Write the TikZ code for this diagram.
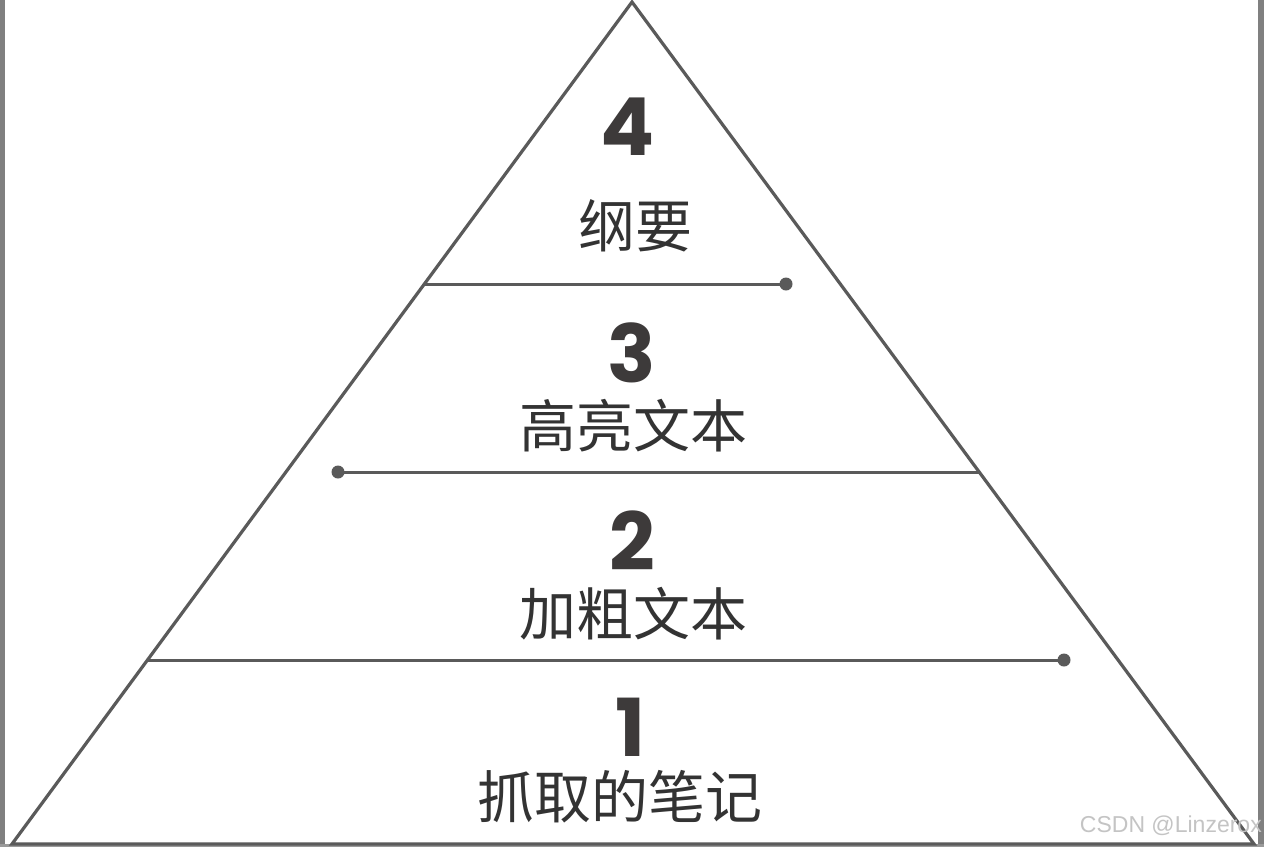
\documentclass[tikz,border=0pt]{standalone}
\usepackage{fontspec}
\setmainfont{Liberation Sans}
\newfontfamily\cjk{Noto Sans CJK SC}
\newfontfamily\numfont{Poppins}
\usetikzlibrary{calc}
\definecolor{linegray}{HTML}{5A5A5A}
\definecolor{numgray}{HTML}{3D3A3A}
\definecolor{edgegray}{HTML}{808080}
\definecolor{wmgray}{HTML}{C4C4C4}
\begin{document}
\begin{tikzpicture}[x=1pt,y=-1pt,
  edge/.style={draw=linegray,line width=3.2pt,line join=miter},
  divider/.style={draw=linegray,line width=3pt},
  dot/.style={circle,fill=linegray,inner sep=0pt,minimum size=13pt},
  numlabel/.style={inner sep=0pt,text=numgray,font=\numfont\bfseries\fontsize{80}{80}\selectfont},
  cjklabel/.style={inner sep=0pt,text height=47pt,text depth=4pt,text=black!80,font=\cjk\fontsize{57}{57}\selectfont}]
\useasboundingbox (0,0) rectangle (1264,847);
\fill[white] (0,0) rectangle (1264,847);
% screenshot edges
\fill[edgegray] (0,0) rectangle (5,847);
\fill[edgegray] (1258,0) rectangle (1264,847);
\fill[edgegray!80] (0,844) rectangle (1264,847);
% triangle
\coordinate (apex) at (632,2);
\coordinate (bl) at (12,844);
\coordinate (br) at (1254,844);
\draw[edge] (bl) -- (apex) -- (br) -- cycle;
% dividers
\coordinate (l4) at (425,284);
\node[dot] (d4) at (786,284) {};
\draw[divider] (l4) -- (d4.center);
\node[dot] (d3) at (338,472) {};
\coordinate (r3) at (980,472);
\draw[divider] (d3.center) -- (r3);
\coordinate (l2) at (148,660);
\node[dot] (d2) at (1064,660) {};
\draw[divider] (l2) -- (d2.center);
% labels
\node[numlabel] (n4) at (628,127) {4};
\node[cjklabel] (t4) at (635,226) {纲要};
\node[numlabel] (n3) at (632,353) {3};
\node[cjklabel] (t3) at (633,426) {高亮文本};
\node[numlabel] (n2) at (632,541) {2};
\node[cjklabel] (t2) at (633,614) {加粗文本};
\node[numlabel] (n1) at (631,727) {1};
\node[cjklabel] (t1) at (620,797) {抓取的笔记};
% watermark
\node[anchor=east,inner sep=0pt,text=wmgray,font=\fontsize{23}{23}\selectfont] (wm) at (1262,826) {CSDN @Linzerox};
\end{tikzpicture}
\end{document}
